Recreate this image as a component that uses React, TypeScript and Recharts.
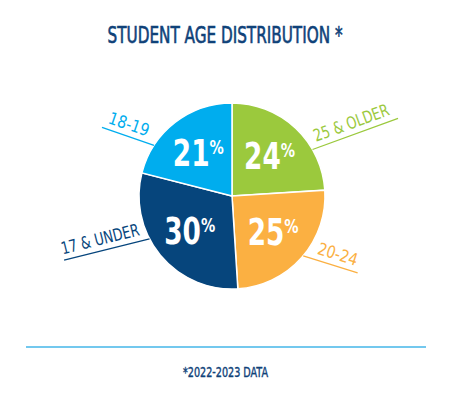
import { Cell, Pie, PieChart } from "recharts";

const AGE_GROUPS = ["25 & OLDER", "20-24", "17 & UNDER", "18-19"];
const SHARES = [24, 25, 30, 21];
const COLORS = ["#9bc93d", "#fbb042", "#06457c", "#00adee"];

const TITLE = "STUDENT AGE DISTRIBUTION *";
const FOOTNOTE = "*2022-2023 DATA";

const NAVY = "#0f4279";
const RULE = "#45b6e8";
const FONT = "'Liberation Sans Narrow', 'DejaVu Sans', Roboto, sans-serif";
const NARROW = { fontStretch: "condensed" } as const;
const RAD = Math.PI / 180;

// hand-placed callouts: where the leader leaves the rim, which way it runs, how long
const CALLOUTS: Record<string, { at: number; dir: number; len: number; shift: number; width: number }> = {
  "25 & OLDER": { at: 30, dir: 20, len: 91, shift: 0, width: 79 },
  "20-24": { at: -40, dir: -17.5, len: 57, shift: 4, width: 41 },
  "17 & UNDER": { at: 207.5, dir: 194, len: 88, shift: -4, width: 80 },
  "18-19": { at: 147, dir: 161, len: 55, shift: -3, width: 42 },
};

const data = AGE_GROUPS.map((name, i) => ({ name, value: SHARES[i], color: COLORS[i] }));

function SliceLabel(props: any) {
  const { cx, cy, midAngle, outerRadius, index } = props;
  const d = data[index];
  const r = outerRadius * 0.59;
  const px = cx + r * Math.cos(-midAngle * RAD);
  const py = cy + r * Math.sin(-midAngle * RAD);

  const c = CALLOUTS[d.name];
  const sx = cx + outerRadius * Math.cos(c.at * RAD);
  const sy = cy - outerRadius * Math.sin(c.at * RAD);
  const ex = sx + c.len * Math.cos(c.dir * RAD);
  const ey = sy - c.len * Math.sin(c.dir * RAD);
  const [lx, ly, rx, ry] = sx < ex ? [sx, sy, ex, ey] : [ex, ey, sx, sy];
  const len = Math.hypot(rx - lx, ry - ly);
  const tx = (rx - lx) / len;
  const ty = (ry - ly) / len;
  const mx = (lx + rx) / 2 + tx * c.shift + ty * 6;
  const my = (ly + ry) / 2 + ty * c.shift - tx * 6;
  const rot = (Math.atan2(ty, tx) * 180) / Math.PI;

  return (
    <g>
      <line x1={sx} y1={sy} x2={ex} y2={ey} stroke={d.color} strokeWidth={1.3} />
      <text
        x={mx}
        y={my}
        transform={`rotate(${rot} ${mx} ${my})`}
        textAnchor="middle"
        fill={d.color}
        fontFamily={FONT}
        fontSize={17}
        style={NARROW}
        textLength={c.width}
        lengthAdjust="spacingAndGlyphs"
      >
        {d.name}
      </text>
      <text
        x={px}
        y={py + 13}
        textAnchor="middle"
        fill="#fff"
        fontFamily={FONT}
        fontWeight={700}
        fontSize={37}
        style={NARROW}
        textLength={51}
        lengthAdjust="spacingAndGlyphs"
      >
        {d.value}
        <tspan fontSize={20} dy={-12}>
          %
        </tspan>
      </text>
    </g>
  );
}

export default function App() {
  return (
    <div style={{ position: "relative", width: 450, height: 400, background: "#fff" }}>
      <style>{`body{margin:0}`}</style>
      <PieChart width={450} height={400} margin={{ top: 0, right: 0, bottom: 0, left: 0 }}>
        <Pie
          data={data}
          dataKey="value"
          nameKey="name"
          cx={232}
          cy={196}
          outerRadius={93}
          startAngle={90}
          endAngle={-270}
          stroke="#fff"
          strokeWidth={1.5}
          label={SliceLabel}
          labelLine={false}
          isAnimationActive={false}
        >
          {data.map((d) => (
            <Cell key={d.name} fill={d.color} />
          ))}
        </Pie>
      </PieChart>
      <svg
        width={450}
        height={400}
        style={{ position: "absolute", left: 0, top: 0, pointerEvents: "none" }}
      >
        <text
          x={225}
          y={43}
          textAnchor="middle"
          fill={NAVY}
          stroke={NAVY}
          strokeWidth={0.6}
          fontFamily={FONT}
          fontSize={23}
          style={NARROW}
          textLength={235}
          lengthAdjust="spacingAndGlyphs"
        >
          {TITLE}
        </text>
        <line x1={26} y1={347} x2={426} y2={347} stroke={RULE} strokeWidth={1.5} />
        <text
          x={225.5}
          y={377}
          textAnchor="middle"
          fill={NAVY}
          stroke={NAVY}
          strokeWidth={0.4}
          fontFamily={FONT}
          fontSize={14}
          style={NARROW}
          textLength={85}
          lengthAdjust="spacingAndGlyphs"
        >
          {FOOTNOTE}
        </text>
      </svg>
    </div>
  );
}
